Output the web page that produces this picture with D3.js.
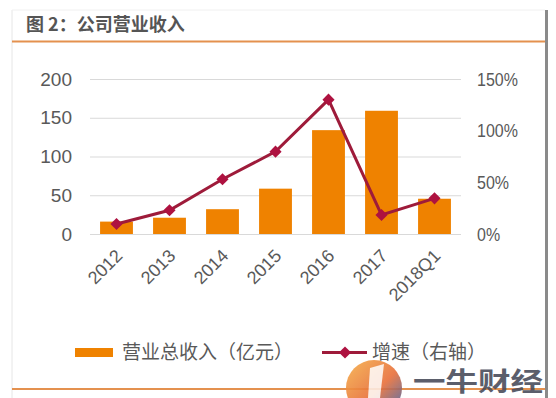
<!DOCTYPE html>
<html>
<head>
<meta charset="utf-8">
<script src="https://cdn.jsdelivr.net/npm/d3@7"></script>
<style>
  body { margin: 0; background: #fff; }
  svg { display: block; }
</style>
</head>
<body>
<svg width="556" height="398"></svg>
<script>
const categories = ["2012", "2013", "2014", "2015", "2016", "2017", "2018Q1"];
const revenue = [16, 21, 32, 58.5, 134, 159, 45.5]; // 亿元
const growth = [0.097, 0.23, 0.53, 0.797, 1.30, 0.184, 0.345]; // 右轴
const leftTicks = [0, 50, 100, 150, 200];
const rightTicks = [0, 0.5, 1.0, 1.5];

const svg = d3.select("svg");
const width = 556, height = 398;
const plot = ({left: 90, right: 461, top: 79, bottom: 234});
const numFont = "'Liberation Sans', Arial, sans-serif";
const cjkFont = "'Noto Sans CJK SC', sans-serif";
const orange = "#EF8200";
const lineColor = "#9E1B3A";
const markColor = "#AE1240";

// frame
svg.append("line").attr("x1", 12).attr("x2", 12).attr("y1", 10).attr("y2", 398)
    .attr("stroke", "#e6e6e6");
svg.append("line").attr("x1", 12).attr("x2", 545).attr("y1", 10).attr("y2", 10)
    .attr("stroke", "#f0f0f0");
svg.append("rect").attr("x", 545).attr("y", 10).attr("width", 3).attr("height", 388)
    .attr("fill", "#8a8a8a");
svg.append("line").attr("x1", 12).attr("x2", 545).attr("y1", 41.5).attr("y2", 41.5)
    .attr("stroke", "#E4914F").attr("stroke-width", 2);
svg.append("line").attr("x1", 12).attr("x2", 545).attr("y1", 389).attr("y2", 389)
    .attr("stroke", "#E4914F").attr("stroke-width", 2);

svg.append("text")
    .attr("x", 26).attr("y", 31)
    .attr("font-family", cjkFont).attr("font-weight", "bold")
    .attr("font-size", 18).attr("fill", "#555")
    .text("图 2：公司营业收入");

const x = d3.scaleBand()
    .domain(categories)
    .range([plot.left, plot.right])
    .paddingInner(0.38)
    .paddingOuter(0.19);
const y = d3.scaleLinear().domain([0, 200]).range([plot.bottom, plot.top]);
const y2 = d3.scaleLinear().domain([0, 1.5]).range([plot.bottom, plot.top]);

// gridlines
svg.append("g")
    .attr("transform", `translate(${plot.left},0)`)
    .call(d3.axisLeft(y).tickValues(leftTicks).tickSize(-(plot.right - plot.left)).tickFormat(""))
    .call(g => g.select(".domain").remove())
    .call(g => g.selectAll("line").attr("stroke", "#d9d9d9"));

// left axis labels
svg.append("g")
    .attr("transform", `translate(72,0)`)
    .call(d3.axisLeft(y).tickValues(leftTicks).tickSize(0).tickPadding(0))
    .call(g => g.select(".domain").remove())
    .call(g => g.selectAll("text")
        .attr("font-family", numFont).attr("font-size", 19).attr("fill", "#595959"));

// right axis labels (narrow face)
svg.append("g")
    .attr("transform", `translate(477,0)`)
    .call(d3.axisRight(y2).tickValues(rightTicks).tickSize(0).tickPadding(0)
        .tickFormat(d => Math.round(d * 100) + "%"))
    .call(g => g.select(".domain").remove())
    .call(g => g.selectAll("text")
        .attr("font-family", numFont)
        .attr("font-size", 19).attr("fill", "#595959")
        .attr("lengthAdjust", "spacingAndGlyphs")
        .attr("textLength", d => (String(Math.round(d * 100)).length * 0.456 + 0.729) * 19.5));

// x labels
svg.append("g")
    .attr("transform", `translate(0,${plot.bottom})`)
    .call(d3.axisBottom(x).tickSize(0).tickPadding(0))
    .call(g => g.select(".domain").remove())
    .call(g => g.selectAll("text")
        .attr("font-family", numFont).attr("font-size", 18).attr("fill", "#595959")
        .attr("text-anchor", "end")
        .attr("dy", 0)
        .attr("transform", "translate(7,23) rotate(-45)"));

// bars
svg.append("g")
  .selectAll("rect")
  .data(revenue)
  .join("rect")
    .attr("x", (d, i) => x(categories[i]))
    .attr("y", d => y(d))
    .attr("width", x.bandwidth())
    .attr("height", d => y(0) - y(d))
    .attr("fill", orange);

// growth line
const cx = i => x(categories[i]) + x.bandwidth() / 2;
svg.append("path")
    .datum(growth)
    .attr("fill", "none")
    .attr("stroke", lineColor)
    .attr("stroke-width", 3)
    .attr("d", d3.line().x((d, i) => cx(i)).y(d => y2(d)));

svg.append("g")
  .selectAll("rect")
  .data(growth)
  .join("rect")
    .attr("x", -4.3).attr("y", -4.3)
    .attr("width", 8.6).attr("height", 8.6)
    .attr("fill", markColor)
    .attr("transform", (d, i) => `translate(${cx(i)},${y2(d)}) rotate(45)`);

// legend
const legend = svg.append("g");
legend.append("rect").attr("x", 75).attr("y", 348).attr("width", 38).attr("height", 9)
    .attr("fill", orange);
legend.append("text").attr("x", 122).attr("y", 359)
    .attr("font-family", cjkFont).attr("font-size", 19).attr("fill", "#595959")
    .text("营业总收入（亿元）");
legend.append("line").attr("x1", 322).attr("x2", 367).attr("y1", 352.5).attr("y2", 352.5)
    .attr("stroke", lineColor).attr("stroke-width", 3);
legend.append("rect").attr("x", -4.3).attr("y", -4.3).attr("width", 8.6).attr("height", 8.6)
    .attr("fill", markColor)
    .attr("transform", "translate(345,352.5) rotate(45)");
legend.append("text").attr("x", 372).attr("y", 359)
    .attr("font-family", cjkFont).attr("font-size", 19).attr("fill", "#595959")
    .text("增速（右轴）");

// watermark
const defs = svg.append("defs");
const grad = defs.append("linearGradient").attr("id", "wm")
    .attr("x1", "0").attr("y1", "0").attr("x2", "1").attr("y2", "1");
grad.append("stop").attr("offset", "0%").attr("stop-color", "#F6B24A");
grad.append("stop").attr("offset", "55%").attr("stop-color", "#E8703A");
grad.append("stop").attr("offset", "100%").attr("stop-color", "#2F5FB0");
const wm = svg.append("g").attr("opacity", 0.9);
wm.append("circle").attr("cx", 374).attr("cy", 388).attr("r", 28).attr("fill", "url(#wm)");
wm.append("path").attr("d", "M370,368 L384,364 L380,398 L368,398 Z").attr("fill", "#fff").attr("opacity", 0.85);
wm.append("text").attr("x", 413).attr("y", 391)
    .attr("font-family", cjkFont).attr("font-weight", "bold")
    .attr("font-size", 26).attr("fill", "#4a4d5c")
    .attr("lengthAdjust", "spacingAndGlyphs")
    .attr("textLength", 130)
    .text("一牛财经");
</script>
</body>
</html>
